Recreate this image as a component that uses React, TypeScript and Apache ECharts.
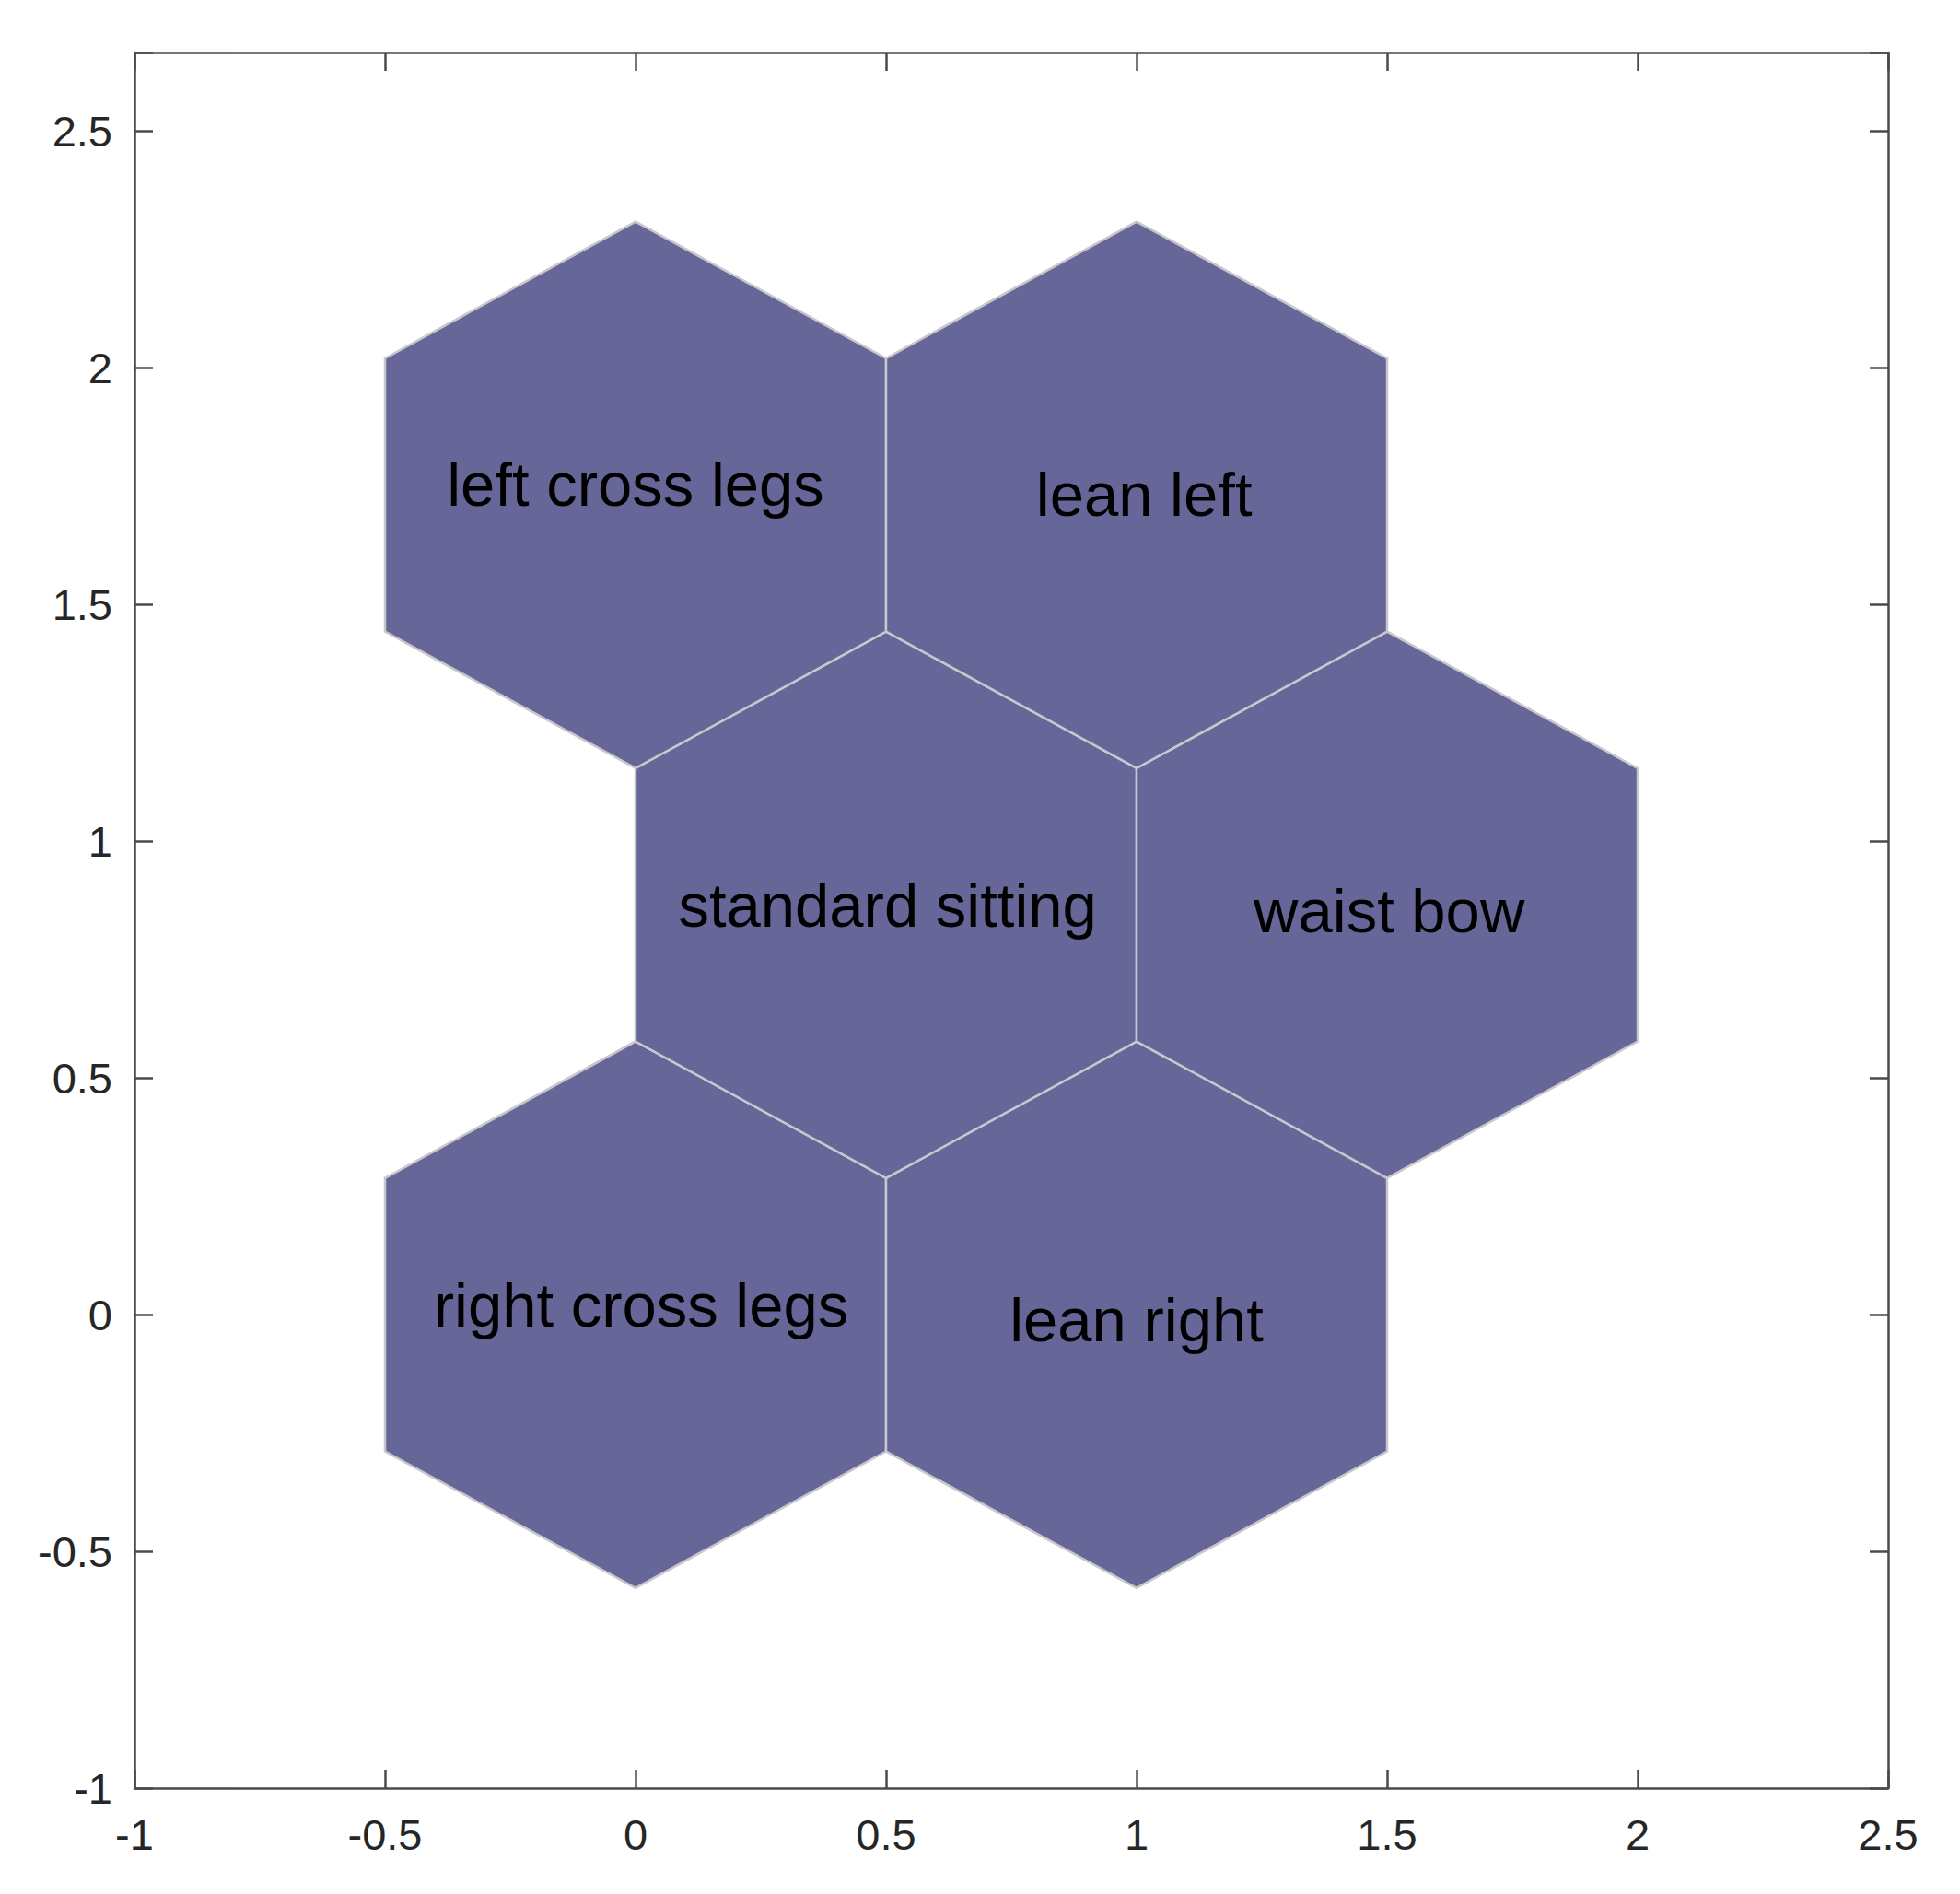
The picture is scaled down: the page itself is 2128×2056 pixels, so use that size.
import React, { useEffect, useRef } from "react";
import * as echarts from "echarts";

// Node (neuron) positions of the hexagonal topology
const nodeNames = [
  "right cross legs",
  "lean right",
  "standard sitting",
  "waist bow",
  "left cross legs",
  "lean left",
];
const nodeX = [0, 1, 0.5, 1.5, 0, 1];
const nodeY = [0, 0, 0.866, 0.866, 1.732, 1.732];

// Label anchor positions (as placed in the figure)
const labelX = [0.011, 1.0, 0.503, 1.504, 0.0, 1.015];
const labelY = [0.021, -0.01, 0.866, 0.853, 1.755, 1.734];

// Axis ranges / ticks
const X_MIN = -1;
const X_MAX = 2.5;
const Y_MIN = -1;
const Y_MAX = 2.6667;
const TICK_STEP = 0.5;

const HEX_HALF_W = 0.5;
const HEX_R = 0.57735;

const FILL = "#666699";
const EDGE = "#c8c8cc";
const AXIS_COLOR = "#4a4a4a";
const LABEL_COLOR = "#262626";
const FONT = "Liberation Sans";

const fmt = (v: number) =>
  Math.abs(v / TICK_STEP - Math.round(v / TICK_STEP)) < 1e-6 ? String(Math.round(v * 10) / 10) : "";

export default function App() {
  const ref = useRef<HTMLDivElement>(null);
  useEffect(() => {
    if (!ref.current) return;
    const chart = echarts.init(ref.current, null, { renderer: "svg" });
    const axisLine = { show: true, onZero: false, lineStyle: { color: AXIS_COLOR, width: 2.5 } };
    const axisTick = { show: true, inside: true, length: 20, lineStyle: { color: AXIS_COLOR, width: 2.5 } };
    const hexData = nodeX.map((x, i) => [x, nodeY[i]]);
    const labelData = labelX.map((x, i) => [x, labelY[i]]);
    const offsets = [
      [0, HEX_R],
      [HEX_HALF_W, HEX_R / 2],
      [HEX_HALF_W, -HEX_R / 2],
      [0, -HEX_R],
      [-HEX_HALF_W, -HEX_R / 2],
      [-HEX_HALF_W, HEX_R / 2],
    ];
    chart.setOption({
      animation: false,
      backgroundColor: "#ffffff",
      grid: { left: 146, right: 78, top: 57, bottom: 115, containLabel: false },
      xAxis: [
        {
          type: "value",
          position: "bottom",
          min: X_MIN,
          max: X_MAX,
          interval: TICK_STEP,
          axisLine,
          axisTick,
          splitLine: { show: false },
          axisLabel: { fontSize: 47, color: LABEL_COLOR, fontFamily: FONT, margin: 27, formatter: fmt },
        },
        {
          type: "value",
          position: "top",
          min: X_MIN,
          max: X_MAX,
          interval: TICK_STEP,
          axisLine,
          axisTick,
          splitLine: { show: false },
          axisLabel: { show: false },
        },
      ],
      yAxis: [
        {
          type: "value",
          position: "left",
          min: Y_MIN,
          max: Y_MAX,
          interval: TICK_STEP,
          axisLine,
          axisTick,
          splitLine: { show: false },
          axisLabel: { fontSize: 47, color: LABEL_COLOR, fontFamily: FONT, margin: 24, formatter: fmt },
        },
        {
          type: "value",
          position: "right",
          min: Y_MIN,
          max: Y_MAX,
          interval: TICK_STEP,
          axisLine,
          axisTick,
          splitLine: { show: false },
          axisLabel: { show: false },
        },
      ],
      series: [
        {
          type: "custom",
          xAxisIndex: 0,
          yAxisIndex: 0,
          data: hexData,
          clip: false,
          renderItem: (params: any, api: any) => {
            const cx = api.value(0);
            const cy = api.value(1);
            const pts = offsets.map(([dx, dy]) => api.coord([cx + dx, cy + dy]));
            return {
              type: "polygon",
              shape: { points: pts },
              style: { fill: FILL, stroke: EDGE, lineWidth: 2.5 },
            };
          },
        },
        {
          type: "custom",
          xAxisIndex: 0,
          yAxisIndex: 0,
          data: labelData,
          clip: false,
          z: 5,
          renderItem: (params: any, api: any) => {
            const p = api.coord([api.value(0), api.value(1)]);
            return {
              type: "text",
              x: p[0],
              y: p[1],
              style: {
                text: nodeNames[params.dataIndex],
                fill: "#000000",
                fontSize: 67,
                fontFamily: FONT,
                align: "center",
                verticalAlign: "middle",
              },
            };
          },
        },
      ],
    });
    return () => chart.dispose();
  }, []);
  return (
    <div
      ref={ref}
      style={{ position: "absolute", left: 0, top: 0, width: 2128, height: 2056 }}
    />
  );
}
